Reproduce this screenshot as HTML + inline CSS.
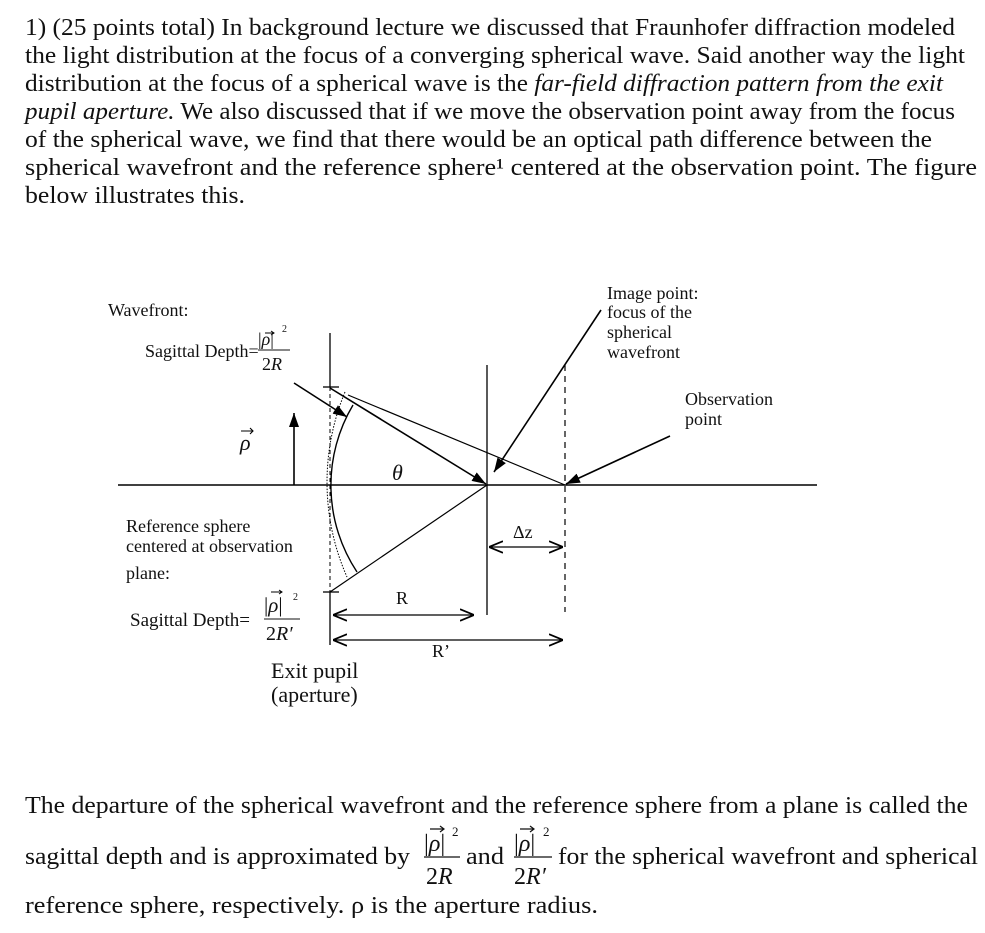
<!DOCTYPE html>
<html><head><meta charset="utf-8"><style>
html,body{margin:0;padding:0;background:#fff;}
svg{display:block;}
.p{font-family:"Liberation Serif",serif;font-size:24px;fill:#111;}
.d{font-family:"Liberation Serif",serif;font-size:18px;fill:#111;}
</style></head><body>
<svg width="985" height="933" viewBox="0 0 985 933" xmlns="http://www.w3.org/2000/svg">
<defs>
<marker id="a2" viewBox="0 0 14 14" refX="14" refY="7" markerWidth="14" markerHeight="14" markerUnits="userSpaceOnUse" orient="auto"><path d="M0,2 L14,7 L0,12 z" fill="#000"/></marker>
<marker id="o" viewBox="0 0 12 12" refX="12" refY="6" markerWidth="14" markerHeight="14" markerUnits="userSpaceOnUse" orient="auto"><path d="M0,1 L12,6 L0,11" fill="none" stroke="#000" stroke-width="1.5"/></marker>
<marker id="os" viewBox="0 0 12 12" refX="12" refY="6" markerWidth="14" markerHeight="14" markerUnits="userSpaceOnUse" orient="auto-start-reverse"><path d="M0,1 L12,6 L0,11" fill="none" stroke="#000" stroke-width="1.5"/></marker>
</defs>
<g class="p" lengthAdjust="spacingAndGlyphs">
<text x="25" y="35" textLength="930" lengthAdjust="spacingAndGlyphs">1) (25 points total)  In background lecture we discussed that Fraunhofer diffraction modeled</text>
<text x="25" y="63" textLength="940" lengthAdjust="spacingAndGlyphs">the light distribution at the focus of a converging spherical wave.  Said another way the light</text>
<text x="25" y="91" textLength="918" lengthAdjust="spacingAndGlyphs">distribution at the focus of a spherical wave is the <tspan font-style="italic">far-field diffraction pattern from the exit</tspan></text>
<text x="25" y="119" textLength="930" lengthAdjust="spacingAndGlyphs"><tspan font-style="italic">pupil aperture.</tspan>  We also discussed that if we move the observation point away from the focus</text>
<text x="25" y="147" textLength="907" lengthAdjust="spacingAndGlyphs">of the spherical wave, we find that there would be an optical path difference between the</text>
<text x="25" y="175" textLength="952" lengthAdjust="spacingAndGlyphs">spherical wavefront and the reference sphere¹ centered at the observation point.    The figure</text>
<text x="25" y="203" textLength="220" lengthAdjust="spacingAndGlyphs">below illustrates this.</text>
<text x="25" y="813" textLength="943" lengthAdjust="spacingAndGlyphs">The departure of the spherical wavefront and the reference sphere from a plane is called the</text>
<text x="25" y="864" textLength="385" lengthAdjust="spacingAndGlyphs">sagittal depth and is approximated by</text>
<text x="466" y="864" textLength="38" lengthAdjust="spacingAndGlyphs">and</text>
<text x="558" y="864" textLength="420" lengthAdjust="spacingAndGlyphs">for the spherical wavefront and spherical</text>
<text x="25" y="913" textLength="573" lengthAdjust="spacingAndGlyphs">reference sphere, respectively.  ρ  is the aperture radius.</text>
</g>
<!-- bottom fractions -->
<g class="p">
<text x="424" y="851">|<tspan font-style="italic">ρ</tspan>|</text><text x="452" y="836" font-size="13">2</text>
<path d="M430,829 h14 M440,826 l4,3 l-4,3" stroke="#111" stroke-width="1.2" fill="none"/>
<line x1="424" y1="857" x2="460" y2="857" stroke="#111" stroke-width="1.3"/>
<text x="426" y="884">2<tspan font-style="italic">R</tspan></text>
<text x="514" y="851">|<tspan font-style="italic">ρ</tspan>|</text><text x="543" y="836" font-size="13">2</text>
<path d="M520,829 h14 M530,826 l4,3 l-4,3" stroke="#111" stroke-width="1.2" fill="none"/>
<line x1="514" y1="857" x2="552" y2="857" stroke="#111" stroke-width="1.3"/>
<text x="514" y="884">2<tspan font-style="italic">R′</tspan></text>
</g>
<!-- diagram -->
<g stroke="#000" fill="none">
<line x1="118" y1="485" x2="817" y2="485" stroke-width="1.5"/>
<line x1="330" y1="333" x2="330" y2="387" stroke-width="1.3"/>
<line x1="323" y1="387" x2="339" y2="387" stroke-width="1.3"/>
<line x1="330" y1="387" x2="330" y2="592" stroke-width="1" stroke-dasharray="4,3"/>
<line x1="323" y1="592" x2="339" y2="592" stroke-width="1.3"/>
<line x1="330" y1="592" x2="330" y2="645" stroke-width="1.3"/>
<line x1="487" y1="365" x2="487" y2="615" stroke-width="1.3"/>
<line x1="565" y1="365" x2="565" y2="612" stroke-width="1.2" stroke-dasharray="6,5"/>
<path d="M353,405 A157,157 0 0 0 357,572" stroke-width="1.4"/>
<path d="M345,392 A235,235 0 0 0 347,577" stroke-width="1" stroke-dasharray="1.5,1.5"/>
<line x1="294" y1="383" x2="347" y2="417" stroke-width="1.6" marker-end="url(#a2)"/>
<line x1="330" y1="388" x2="486" y2="484" stroke-width="1.6" marker-end="url(#a2)"/>
<line x1="348" y1="395" x2="565" y2="485" stroke-width="1.2"/>
<line x1="330" y1="592" x2="487" y2="485" stroke-width="1.2"/>
<line x1="601" y1="310" x2="494" y2="472" stroke-width="1.6" marker-end="url(#a2)"/>
<line x1="670" y1="436" x2="566" y2="484" stroke-width="1.6" marker-end="url(#a2)"/>
<line x1="294" y1="485" x2="294" y2="413" stroke-width="1.6" marker-end="url(#a2)"/>
<line x1="333" y1="615" x2="474" y2="615" stroke-width="1.3" marker-start="url(#os)" marker-end="url(#o)"/>
<line x1="333" y1="640" x2="563" y2="640" stroke-width="1.3" marker-start="url(#os)" marker-end="url(#o)"/>
<line x1="489" y1="547" x2="563" y2="547" stroke-width="1.3" marker-start="url(#os)" marker-end="url(#o)"/>
<!-- vector arrows -->
<path d="M241,431 h12 M250,428 l3,3 l-3,3" stroke-width="1.1"/>
<path d="M265,333 h9 M271,331 l3,2 l-3,2" stroke-width="1"/>
<path d="M271,592 h11 M279,590 l3,2 l-3,2" stroke-width="1"/>
</g>
<g class="d">
<text x="108" y="316">Wavefront:</text>
<text x="145" y="357">Sagittal Depth=</text>
<text x="258" y="345">|<tspan font-style="italic">ρ</tspan>|</text><text x="282" y="332" font-size="10">2</text>
<line x1="258" y1="350" x2="290" y2="350" stroke="#111" stroke-width="1"/>
<text x="262" y="370">2<tspan font-style="italic">R</tspan></text>
<text x="240" y="450" font-style="italic" font-size="22">ρ</text>
<text x="392" y="480" font-style="italic" font-size="22">θ</text>
<text x="126" y="532">Reference sphere</text>
<text x="126" y="552">centered at observation</text>
<text x="126" y="579">plane:</text>
<text x="130" y="626" font-size="19">Sagittal Depth=</text>
<text x="264" y="612" font-size="21">|<tspan font-style="italic">ρ</tspan>|</text><text x="293" y="600" font-size="10">2</text>
<line x1="264" y1="619" x2="300" y2="619" stroke="#111" stroke-width="1"/>
<text x="266" y="640" font-size="20">2<tspan font-style="italic">R′</tspan></text>
<text x="396" y="604">R</text>
<text x="432" y="657">R’</text>
<text x="513" y="538">Δz</text>
<text x="271" y="678" font-size="22">Exit pupil</text>
<text x="271" y="702" font-size="22">(aperture)</text>
<text x="607" y="299">Image point:</text>
<text x="607" y="318">focus of the</text>
<text x="607" y="338">spherical</text>
<text x="607" y="358">wavefront</text>
<text x="685" y="405">Observation</text>
<text x="685" y="425">point</text>
</g>
</svg>
</body></html>
